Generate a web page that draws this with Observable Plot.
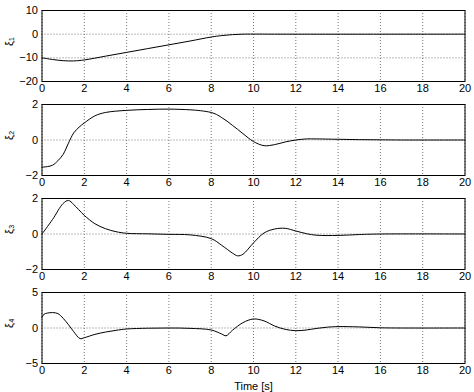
<!DOCTYPE html>
<html>
<head>
<meta charset="utf-8">
<script src="https://cdn.jsdelivr.net/npm/d3@7"></script>
<script src="https://cdn.jsdelivr.net/npm/@observablehq/plot@0.6"></script>
<style>
html, body { margin: 0; padding: 0; background: #fff; }
#chart { width: 474px; }
#chart svg { display: block; }
</style>
</head>
<body>
<div id="chart"></div>
<script>
const xTicks = [0, 2, 4, 6, 8, 10, 12, 14, 16, 18, 20];

const t1 = [0, 0.5, 1, 1.5, 2, 3, 4, 5, 6, 7, 8, 8.5, 9, 9.5, 10, 11, 20];
const xi1 = [-10, -10.7, -11.2, -11.3, -10.9, -9.3, -7.7, -6.1, -4.5, -2.9, -1.2, -0.6, -0.2, 0, 0.03, 0, 0];

const t2 = [0, 0.25, 0.5, 0.75, 1, 1.25, 1.5, 1.75, 2, 2.5, 3, 4, 5, 6, 7, 7.5, 8, 8.25, 8.5, 8.75, 9, 9.25, 9.5, 9.75, 10, 10.5, 11, 11.5, 12, 12.5, 13, 14, 15, 16, 17, 20];
const xi2 = [-1.53, -1.5, -1.42, -1.17, -0.81, -0.18, 0.4, 0.72, 0.96, 1.36, 1.55, 1.67, 1.72, 1.74, 1.7, 1.65, 1.55, 1.44, 1.26, 1.06, 0.83, 0.6, 0.36, 0.12, -0.09, -0.32, -0.26, -0.11, 0, 0.06, 0.06, 0.04, 0.02, 0.01, 0, 0];

const t3 = [0, 0.5, 1, 1.25, 1.5, 2, 2.5, 3, 3.5, 4, 5, 6, 7, 8, 8.5, 9, 9.25, 9.5, 10, 10.5, 11, 11.5, 12, 12.5, 13, 14, 15, 16, 20];
const xi3 = [0, 0.82, 1.72, 1.89, 1.66, 1.05, 0.58, 0.3, 0.13, 0.04, 0.01, -0.02, -0.05, -0.26, -0.64, -1.07, -1.23, -1.14, -0.5, 0.06, 0.28, 0.32, 0.17, 0.02, -0.07, -0.08, -0.03, 0, 0];

const t4 = [0, 0.1, 0.25, 0.5, 0.75, 1, 1.25, 1.5, 1.8, 2, 2.5, 3, 3.5, 4, 5, 6, 7, 8, 8.5, 8.7, 9, 9.5, 10, 10.5, 11, 11.5, 12, 12.5, 13, 13.5, 14, 15, 16, 17, 20];
const xi4 = [1.5, 1.95, 2.1, 2.17, 2.03, 1.37, 0.47, -0.52, -1.5, -1.37, -0.9, -0.57, -0.33, -0.14, -0.03, 0, -0.05, -0.28, -0.85, -1.1, -0.33, 0.75, 1.27, 1.0, 0.28, -0.19, -0.38, -0.28, -0.05, 0.12, 0.2, 0.15, 0.03, 0, 0];

const panels = [
  {label: "ξ₁", t: t1, v: xi1, domain: [-20, 10], ticks: [-20, -10, 0, 10]},
  {label: "ξ₂", t: t2, v: xi2, domain: [-2, 2], ticks: [-2, 0, 2]},
  {label: "ξ₃", t: t3, v: xi3, domain: [-2, 2], ticks: [-2, 0, 2]},
  {label: "ξ₄", t: t4, v: xi4, domain: [-5, 5], ticks: [-5, 0, 5]}
];

const container = document.getElementById("chart");
panels.forEach((p, i) => {
  const last = i === panels.length - 1;
  const data = p.t.map((t, k) => ({t, v: p.v[k]}));
  const chart = Plot.plot({
    width: 474,
    height: last ? 110 : 94,
    marginTop: 10,
    marginBottom: last ? 29 : 13,
    marginLeft: 41.5,
    marginRight: 9.5,
    style: {fontFamily: "'Liberation Sans', Arial, sans-serif", fontSize: "11px", color: "#000", background: "#fff"},
    x: {domain: [0, 20]},
    y: {domain: p.domain},
    marks: [
      Plot.gridX(xTicks, {stroke: "#777", strokeOpacity: 1, strokeDasharray: "1,2"}),
      Plot.gridY(p.ticks, {stroke: "#777", strokeOpacity: 1, strokeDasharray: "1,2"}),
      Plot.axisX(xTicks, {tickSize: 0, tickPadding: 3, label: last ? "Time [s]" : null, labelAnchor: "center", labelArrow: "none", labelOffset: 26, tickFormat: d => String(d)}),
      Plot.axisY(p.ticks, {tickSize: 0, tickPadding: 4, label: null, tickFormat: d => d < 0 ? "\u2212" + Math.abs(d) : String(d)}),
      Plot.line(data, {x: "t", y: "v", stroke: "#000", strokeWidth: 1, curve: "catmull-rom"}),
      Plot.frame({stroke: "#000", strokeWidth: 1}),
      Plot.text([p.label], {frameAnchor: "left", rotate: -90, dx: -33, fontSize: 11, fill: "#000"})
    ]
  });
  container.appendChild(chart);
});
</script>
</body>
</html>
